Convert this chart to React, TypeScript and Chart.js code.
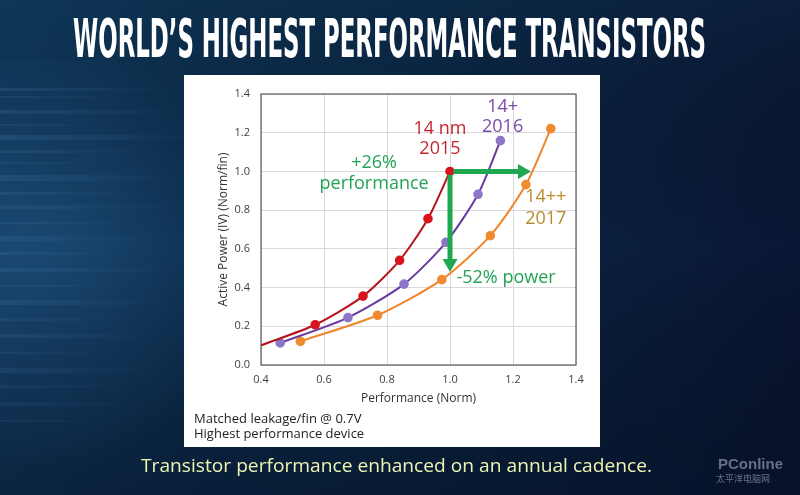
import React, { useEffect, useRef } from "react";
import { Chart, registerables } from "chart.js";

Chart.register(...registerables);

// ---------- text ----------
const TITLE = "WORLD’S HIGHEST PERFORMANCE TRANSISTORS";
const SUBTITLE = "Transistor performance enhanced on an annual cadence.";
const NOTES = ["Matched leakage/fin @ 0.7V", "Highest performance device"];
const X_TITLE = "Performance (Norm)";
const Y_TITLE = "Active Power (IV) (Norm/fin)";

// ---------- axes ----------
const X_MIN = 0.4;
const X_MAX = 1.4;
const Y_MIN = 0.0;
const Y_MAX = 1.4;
const TICK_STEP = 0.2;

// ---------- series ----------
const NM14_X = [0.4, 0.572, 0.724, 0.84, 0.93, 1.0];
const NM14_Y = [0.102, 0.208, 0.356, 0.541, 0.756, 1.0];
const NM14_MARK = [false, true, true, true, true, true];

const P14_X = [0.461, 0.676, 0.854, 0.987, 1.089, 1.16];
const P14_Y = [0.114, 0.245, 0.418, 0.634, 0.882, 1.159];

const PP14_X = [0.525, 0.77, 0.974, 1.128, 1.241, 1.32];
const PP14_Y = [0.122, 0.257, 0.441, 0.668, 0.932, 1.221];

// ---------- arrows (data coords: start -> tip) ----------
const ARROW_PERF_X = [1.0, 1.257];
const ARROW_PERF_Y = [1.0, 1.0];
const ARROW_POWER_X = [1.0, 1.0];
const ARROW_POWER_Y = [1.0, 0.48];

// ---------- annotation labels (anchored in data coords) ----------
const LABEL_TEXT = ["14 nm", "2015", "14+", "2016", "+26%", "performance", "14++", "2017", "-52% power"];
const LABEL_X = [0.968, 0.968, 1.167, 1.167, 0.759, 0.759, 1.304, 1.304, 1.178];
const LABEL_Y = [1.221, 1.114, 1.334, 1.228, 1.045, 0.935, 0.866, 0.756, 0.448];
const LABEL_COLOR = ["#c4262e", "#c4262e", "#7b4ba8", "#7b4ba8", "#22a356", "#22a356", "#b98a2e", "#b98a2e", "#22a356"];

const pts = (xs: number[], ys: number[]) => xs.map((x, i) => ({ x, y: ys[i] }));

// background streaks: [y, height, alpha, length]
const STREAKS: number[][] = [
  [88, 3, 0.18, 170], [96, 2, 0.14, 130], [110, 4, 0.16, 190], [124, 2, 0.12, 120],
  [135, 5, 0.18, 210], [150, 3, 0.15, 150], [162, 2, 0.12, 110], [175, 6, 0.16, 180],
  [192, 3, 0.15, 140], [205, 4, 0.13, 190], [222, 2, 0.17, 130], [236, 5, 0.13, 160],
  [252, 3, 0.15, 120], [268, 4, 0.15, 180], [285, 2, 0.12, 150], [300, 5, 0.15, 170],
  [318, 3, 0.12, 130], [334, 4, 0.15, 160], [352, 2, 0.12, 110], [368, 5, 0.12, 150],
  [385, 3, 0.1, 130], [402, 4, 0.1, 140], [420, 2, 0.1, 110],
];

const slidePlugin = {
  id: "slide",
  beforeDraw(chart: any) {
    const ctx = chart.ctx as CanvasRenderingContext2D;
    const W = chart.width;
    const H = chart.height;
    ctx.save();
    const g = ctx.createLinearGradient(0, 0, W, 0);
    g.addColorStop(0, "#113c62");
    g.addColorStop(0.25, "#0c2f50");
    g.addColorStop(0.6, "#0a2544");
    g.addColorStop(1, "#0a1634");
    ctx.fillStyle = g;
    ctx.fillRect(0, 0, W, H);
    const g2 = ctx.createLinearGradient(0, 0, 0, H);
    g2.addColorStop(0, "rgba(12,45,70,0.35)");
    g2.addColorStop(0.5, "rgba(0,0,0,0)");
    g2.addColorStop(1, "rgba(4,10,28,0.45)");
    ctx.fillStyle = g2;
    ctx.fillRect(0, 0, W, H);
    // soft glow on the left
    const rg = ctx.createRadialGradient(40, 250, 10, 40, 250, 220);
    rg.addColorStop(0, "rgba(60,120,180,0.22)");
    rg.addColorStop(1, "rgba(60,120,180,0)");
    ctx.fillStyle = rg;
    ctx.fillRect(0, 60, 260, 400);
    for (const [y, h, a, len] of STREAKS) {
      const sg = ctx.createLinearGradient(0, 0, len, 0);
      sg.addColorStop(0, `rgba(80,140,200,${a})`);
      sg.addColorStop(1, "rgba(80,140,200,0)");
      ctx.fillStyle = sg;
      ctx.fillRect(0, y, len, h);
    }
    // white panel
    ctx.fillStyle = "#ffffff";
    ctx.fillRect(184, 75, 416, 372);

    // title
    ctx.fillStyle = "#ffffff";
    ctx.font = 'bold 53px "Liberation Sans Narrow", "DejaVu Sans Condensed", sans-serif';
    ctx.textBaseline = "alphabetic";
    ctx.textAlign = "left";
    const tw = ctx.measureText(TITLE).width;
    ctx.save();
    ctx.translate(73, 57);
    ctx.scale(633 / tw, 1);
    ctx.fillText(TITLE, 0, 0);
    ctx.restore();

    // subtitle
    ctx.fillStyle = "#eef4b2";
    ctx.font = '18px "Open Sans", sans-serif';
    const sw = ctx.measureText(SUBTITLE).width;
    ctx.save();
    ctx.translate(141, 472);
    ctx.scale(511 / sw, 1);
    ctx.fillText(SUBTITLE, 0, 0);
    ctx.restore();

    // notes
    ctx.fillStyle = "#222222";
    ctx.font = '13px "Open Sans", sans-serif';
    ctx.fillText(NOTES[0], 194, 423);
    ctx.fillText(NOTES[1], 194, 438);

    // watermark
    ctx.fillStyle = "rgba(200,205,215,0.5)";
    ctx.font = 'bold 15px "Liberation Sans", sans-serif';
    ctx.fillText("PConline", 718, 469);
    ctx.font = '9px "Noto Sans CJK SC", sans-serif';
    ctx.fillText("太平洋电脑网", 716, 482);
    ctx.restore();
  },
  beforeDatasetsDraw(chart: any) {
    const { ctx, chartArea: a } = chart;
    ctx.save();
    ctx.strokeStyle = "#5a5a5a";
    ctx.lineWidth = 1.2;
    ctx.strokeRect(a.left, a.top, a.right - a.left, a.bottom - a.top);
    ctx.restore();
  },
  afterDatasetsDraw(chart: any) {
    const ctx = chart.ctx as CanvasRenderingContext2D;
    const xs = chart.scales.x;
    const ys = chart.scales.y;
    const drawArrow = (X: number[], Y: number[]) => {
      const x0 = xs.getPixelForValue(X[0]);
      const y0 = ys.getPixelForValue(Y[0]);
      const x1 = xs.getPixelForValue(X[1]);
      const y1 = ys.getPixelForValue(Y[1]);
      const len = Math.hypot(x1 - x0, y1 - y0);
      const ux = (x1 - x0) / len;
      const uy = (y1 - y0) / len;
      const headL = 13;
      const headW = 7.5;
      const bx = x1 - ux * headL;
      const by = y1 - uy * headL;
      ctx.strokeStyle = "#1fa84f";
      ctx.lineWidth = 5;
      ctx.lineCap = "butt";
      ctx.beginPath();
      ctx.moveTo(x0 - ux * 2.5, y0 - uy * 2.5);
      ctx.lineTo(bx + ux, by + uy);
      ctx.stroke();
      ctx.fillStyle = "#1fa84f";
      ctx.beginPath();
      ctx.moveTo(x1, y1);
      ctx.lineTo(bx - uy * headW, by + ux * headW);
      ctx.lineTo(bx + uy * headW, by - ux * headW);
      ctx.closePath();
      ctx.fill();
    };
    ctx.save();
    drawArrow(ARROW_PERF_X, ARROW_PERF_Y);
    drawArrow(ARROW_POWER_X, ARROW_POWER_Y);
    // red point at arrow origin
    ctx.fillStyle = "#d8141e";
    ctx.beginPath();
    ctx.arc(xs.getPixelForValue(NM14_X[5]), ys.getPixelForValue(NM14_Y[5]), 3.5, 0, Math.PI * 2);
    ctx.fill();

    ctx.font = '18px "Open Sans", sans-serif';
    ctx.textAlign = "center";
    ctx.textBaseline = "middle";
    LABEL_TEXT.forEach((t, i) => {
      ctx.fillStyle = LABEL_COLOR[i];
      ctx.fillText(t, xs.getPixelForValue(LABEL_X[i]), ys.getPixelForValue(LABEL_Y[i]));
    });
    ctx.restore();
  },
};

export default function App() {
  const ref = useRef<HTMLCanvasElement | null>(null);
  useEffect(() => {
    document.body.style.margin = "0";
    const canvas = ref.current;
    if (!canvas) return;
    Chart.defaults.font.family = '"Open Sans", "Noto Sans", sans-serif';
    const chart = new Chart(canvas, {
      type: "line",
      data: {
        datasets: [
          {
            label: "14 nm 2015",
            data: pts(NM14_X, NM14_Y),
            borderColor: "#b5121c",
            backgroundColor: "#d8141e",
            pointBackgroundColor: "#d8141e",
            pointBorderColor: "#d8141e",
            pointRadius: NM14_MARK.map((m) => (m ? 3.8 : 0)),
            borderWidth: 2,
            tension: 0.25,
            fill: false,
          },
          {
            label: "14+ 2016",
            data: pts(P14_X, P14_Y),
            borderColor: "#6a3aa2",
            backgroundColor: "#8d76c6",
            pointBackgroundColor: "#8d76c6",
            pointBorderColor: "#8d76c6",
            pointRadius: 3.8,
            borderWidth: 2,
            tension: 0.25,
            fill: false,
          },
          {
            label: "14++ 2017",
            data: pts(PP14_X, PP14_Y),
            borderColor: "#f0852a",
            backgroundColor: "#f0852a",
            pointBackgroundColor: "#f08a30",
            pointBorderColor: "#f08a30",
            pointRadius: 3.8,
            borderWidth: 2,
            tension: 0.25,
            fill: false,
          },
        ],
      },
      options: {
        responsive: false,
        animation: false,
        events: [],
        layout: { padding: { left: 212, right: 224, top: 94, bottom: 85 } },
        plugins: { legend: { display: false }, tooltip: { enabled: false } },
        scales: {
          x: {
            type: "linear",
            min: X_MIN,
            max: X_MAX,
            afterFit: (s: any) => {
              s.height = 45;
            },
            ticks: {
              stepSize: TICK_STEP,
              padding: 8,
              color: "#404040",
              font: { size: 11 },
              callback: (v: any) => Number(v).toFixed(1),
            },
            grid: { color: "#d9d9d9", drawTicks: false },
            border: { display: false },
            title: { display: true, text: X_TITLE, color: "#333333", font: { size: 12 } },
          },
          y: {
            type: "linear",
            min: Y_MIN,
            max: Y_MAX,
            afterFit: (s: any) => {
              s.width = 49;
            },
            ticks: {
              stepSize: TICK_STEP,
              padding: 11,
              color: "#404040",
              font: { size: 11 },
              callback: (v: any) => Number(v).toFixed(1),
            },
            grid: { color: "#d9d9d9", drawTicks: false },
            border: { display: false },
            title: { display: true, text: Y_TITLE, color: "#333333", font: { size: 12 } },
          },
        },
      },
      plugins: [slidePlugin],
    });
    return () => chart.destroy();
  }, []);
  return (
    <div style={{ width: 800, height: 495, position: "relative", overflow: "hidden" }}>
      <canvas ref={ref} width={800} height={495} style={{ display: "block" }} />
    </div>
  );
}
